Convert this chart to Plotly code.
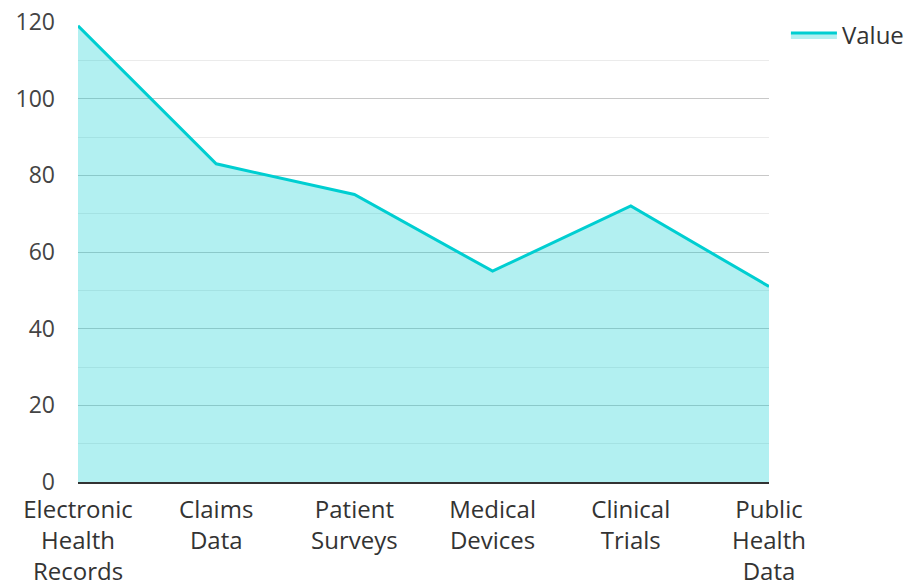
import plotly.graph_objects as go

categories = ["Electronic<br>Health<br>Records", "Claims<br>Data", "Patient<br>Surveys",
              "Medical<br>Devices", "Clinical<br>Trials", "Public<br>Health<br>Data"]
values = [119, 83, 75, 55, 72, 51]
y_ticks = [0, 20, 40, 60, 80, 100, 120]

fig = go.Figure()
fig.add_trace(go.Scatter(
    x=list(range(len(categories))), y=values, name="Value", mode="lines",
    line=dict(color="#00CED1", width=3), fill="tozeroy",
    fillcolor="rgba(0,206,209,0.3)",
))
fig.update_layout(
    width=907, height=575,
    margin=dict(l=70, r=146, t=14, b=101, autoexpand=False),
    paper_bgcolor="white", plot_bgcolor="white",
    font=dict(family="Open Sans", size=24, color="#444"),
    showlegend=True,
    legend=dict(x=1.0245, xanchor="left", y=1.02, yanchor="top",
                font=dict(size=24, color="#333"), itemwidth=46,
                borderwidth=0, bgcolor="rgba(0,0,0,0)"),
    xaxis=dict(tickmode="array", tickvals=list(range(len(categories))), ticktext=categories,
               range=[0, len(categories) - 1], showgrid=False, zeroline=False,
               showline=True, linecolor="#333", linewidth=2, ticks="", automargin=False,
               ticklabelstandoff=5, ticklabeloverflow="allow",
               tickfont=dict(size=24, color="#333")),
    yaxis=dict(range=[0, 120], tickvals=y_ticks, showgrid=True, gridcolor="#c8c8c8", gridwidth=1,
               zeroline=False, ticks="", automargin=False, ticklabelstandoff=22,
               ticklabeloverflow="allow",
               tickfont=dict(size=23, color="#444"),
               minor=dict(dtick=10, showgrid=True, gridcolor="#ebebeb", gridwidth=1)),
)
fig.write_html("out.html")
